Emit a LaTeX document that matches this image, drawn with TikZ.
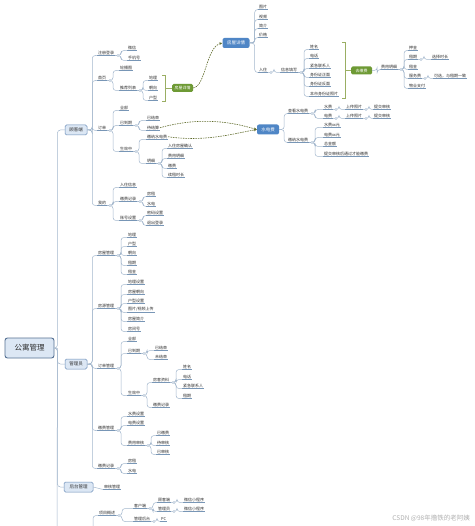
\documentclass[tikz,border=0pt]{standalone}
\usepackage{fontspec}
\setmainfont{Noto Sans CJK SC}
\usetikzlibrary{arrows.meta}
\definecolor{ulc}{HTML}{7896B6}
\definecolor{cnc}{HTML}{A3B7CD}
\definecolor{txt}{HTML}{2E2E2E}
\definecolor{brfill}{HTML}{DCE7F4}
\definecolor{brdraw}{HTML}{6A8DB8}
\definecolor{bluebox}{HTML}{4F86C6}
\definecolor{greenbox}{HTML}{6E9A35}
\definecolor{olivec}{HTML}{5F6B2A}
\definecolor{brkc}{HTML}{9AAE63}
\tikzset{
  leaf/.style={anchor=south west, inner xsep=0.8pt, inner ysep=0.7pt, font=\fontsize{4}{4.5}\selectfont, text=txt},
  uline/.style={draw=ulc, line width=0.7pt},
  conn/.style={draw=cnc, line width=0.5pt, rounded corners=3pt},
  foldc/.style={draw=cnc, fill=white, line width=0.3pt},
  mainbox/.style={draw=brdraw, fill=brfill, rounded corners=1.5pt, line width=0.5pt, font=\fontsize{4.5}{5}\selectfont, minimum width=22pt, minimum height=10pt, inner sep=1pt, text=txt},
  rootbox/.style={draw=brdraw!80!black, fill=brfill, rounded corners=2.5pt, line width=0.9pt, font=\fontsize{7.5}{8}\selectfont, minimum width=49pt, minimum height=20pt, inner sep=1pt, text=txt},
  bluebx/.style={fill=bluebox, text=white, rounded corners=2pt, minimum width=27pt, minimum height=10pt, inner sep=1pt, font=\fontsize{4.5}{5}\selectfont},
  greenbx/.style={fill=greenbox, text=white, rounded corners=1.5pt, minimum width=21pt, minimum height=8pt, inner sep=1pt, font=\fontsize{4}{4.5}\selectfont},
  darrow/.style={draw=olivec, dashed, dash pattern=on 1.5pt off 1pt, line width=0.6pt, -{Stealth[length=3pt,width=2.5pt]}},
  brk/.style={draw=brkc, line width=0.6pt},
}
\newcommand\lf[4]{\node[leaf] (#1) at ({#2},{#3+2.5}) {#4}; \draw[uline] (#1.south west) -- (#1.south east);}
\newcommand\cx[2]{\draw[conn] (#1.south east) -- ++(6,0) |- (#2.south west);}
\newcommand\bx[2]{\draw[conn] (#1.east) -- ++(5,0) |- (#2.south west);}
\newcommand\fd[1]{\draw[foldc] ([xshift=3pt]#1.south east) circle (1.1pt);}
\begin{document}
\begin{tikzpicture}[x=1pt,y=-1pt]
\fill[white] (0,0) rectangle (474,526);
\useasboundingbox (0,0) rectangle (474,526);

% root and main branches
\node[rootbox] (root) at (29.5,348) {公寓管理};
\node[mainbox] (gk) at (76,130) {顾客端};
\node[mainbox] (gly) at (76,364) {管理员};
\node[mainbox, minimum width=29pt] (htgl) at (78.5,487) {后台管理};
\coordinate (tb) at (57,526);
\draw[conn] (root.east) -- ++(3,0) |- (gk.west);
\draw[conn] (root.east) -- ++(3,0) |- (gly.west);
\draw[conn] (root.east) -- ++(3,0) |- (htgl.west);
\draw[conn] ([xshift=3pt]root.east) -- (tb);

% ---------- 顾客端 ----------
\lf{zc}{97}{53}{注册登录}
\lf{wx1}{127}{48}{微信}
\lf{sjh}{127}{58}{手机号}
\lf{sy}{97}{78}{首页}
\lf{lbt}{119}{68}{轮播图}
\lf{tjlb}{119}{88}{推荐列表}
\lf{dl1}{148}{78}{地理}
\lf{cx1}{148}{88}{朝向}
\lf{hx1}{148}{98}{户型}
\lf{dd}{97}{128}{订单}
\lf{qb1}{119}{108}{全部}
\lf{ydq1}{119}{123}{已到期}
\lf{yjs1}{146}{118}{已结束}
\lf{djs1}{146}{128}{待结算}
\lf{sxz1}{119}{149}{生效中}
\lf{jnsdf1}{146}{137}{缴纳水电费}
\lf{mx1}{146}{161}{明细}
\lf{rzfw}{167}{146}{入住房屋确认}
\lf{fymx1}{167}{156}{费用明细}
\lf{jf1}{167}{166}{缴费}
\lf{xzsc}{167}{175}{续租时长}
\lf{wd}{97}{203}{我的}
\lf{rzxx}{119}{185}{入住信息}
\lf{jfjl1}{119}{199}{缴费记录}
\lf{fz1}{146}{194}{房租}
\lf{sd1}{146}{204}{水电}
\lf{zhsz}{119}{218}{账号设置}
\lf{mmsz}{146}{213}{密码设置}
\lf{tcdl}{146}{223}{退出登录}

\bx{gk}{zc} \bx{gk}{sy} \bx{gk}{dd} \bx{gk}{wd}
\cx{zc}{wx1} \cx{zc}{sjh}
\cx{sy}{lbt} \cx{sy}{tjlb}
\cx{tjlb}{dl1} \cx{tjlb}{cx1} \cx{tjlb}{hx1}
\cx{dd}{qb1} \cx{dd}{ydq1} \cx{dd}{sxz1}
\cx{ydq1}{yjs1} \cx{ydq1}{djs1}
\cx{sxz1}{jnsdf1} \cx{sxz1}{mx1}
\cx{mx1}{rzfw} \cx{mx1}{fymx1} \cx{mx1}{jf1} \cx{mx1}{xzsc}
\cx{wd}{rzxx} \cx{wd}{jfjl1} \cx{wd}{zhsz}
\cx{jfjl1}{fz1} \cx{jfjl1}{sd1}
\cx{zhsz}{mmsz} \cx{zhsz}{tcdl}
\fd{zc} \fd{sy} \fd{tjlb} \fd{dd} \fd{ydq1} \fd{sxz1} \fd{mx1} \fd{wd} \fd{jfjl1} \fd{zhsz}

% summary bracket 1
\node[greenbx] (gs1) at (182.5,88) {房屋详情};
\draw[brk] (162,75) -- (165,75) -- (165,101) -- (162,101);
\draw[brk] (165,88) -- (gs1.west);

% ---------- 房屋详情 ----------
\node[bluebx] (fwxq) at (236,43) {房屋详情};
\lf{tp}{258}{7}{图片}
\lf{sp}{258}{17}{视频}
\lf{jj}{258}{26}{简介}
\lf{jg}{258}{35}{价格}
\lf{rz}{258}{70}{入住}
\lf{xxtx}{280}{70}{信息填写}
\lf{xm1}{309}{47}{姓名}
\lf{dh1}{309}{56}{电话}
\lf{jjlxr1}{309}{66}{紧急联系人}
\lf{sfzz}{309}{75}{身份证正面}
\lf{sfzf}{309}{84}{身份证反面}
\lf{bssfz}{309}{94}{本市身份证照片}
\bx{fwxq}{tp} \bx{fwxq}{sp} \bx{fwxq}{jj} \bx{fwxq}{jg} \bx{fwxq}{rz}
\cx{rz}{xxtx}
\cx{xxtx}{xm1} \cx{xxtx}{dh1} \cx{xxtx}{jjlxr1} \cx{xxtx}{sfzz} \cx{xxtx}{sfzf} \cx{xxtx}{bssfz}
\fd{rz} \fd{xxtx}

% summary bracket 2
\node[greenbx] (qjf) at (361.5,70.5) {去缴费};
\draw[brk] (342,42) -- (345,42) -- (345,98) -- (342,98);
\draw[brk] (345,70.5) -- (qjf.west);
\lf{fymx2}{380}{67}{费用明细}
\lf{yj}{408}{48}{押金}
\lf{zq2}{408}{57}{租期}
\lf{xzsc2}{431}{57}{选择时长}
\lf{zj2}{408}{67}{租金}
\lf{fwf}{408}{76}{服务费}
\lf{kx}{433}{76}{可选，与租期一致}
\lf{wyzf}{408}{86}{物业支付}
\bx{qjf}{fymx2}
\cx{fymx2}{yj} \cx{fymx2}{zq2} \cx{fymx2}{zj2} \cx{fymx2}{fwf} \cx{fymx2}{wyzf}
\cx{zq2}{xzsc2} \cx{fwf}{kx}
\fd{fymx2} \fd{zq2} \fd{fwf}

% ---------- 水电费 ----------
\node[bluebx, minimum width=22pt] (sdf) at (268,129.5) {水电费};
\lf{cksdf}{287}{111}{查看水电费}
\lf{sf2}{323}{107}{水费}
\lf{sczp1}{345}{107}{上传照片}
\lf{tjsh1}{373}{107}{提交审核}
\lf{df2}{323}{116}{电费}
\lf{sczp2}{345}{116}{上传照片}
\lf{tjsh2}{373}{116}{提交审核}
\lf{jnsdf2}{287}{140}{缴纳水电费}
\lf{sfxx}{323}{125}{水费xx元}
\lf{dfxx}{323}{135}{电费xx元}
\lf{zje}{323}{144}{总金额}
\lf{tjshh}{323}{154}{提交审核后通过才能缴费}
\bx{sdf}{cksdf} \bx{sdf}{jnsdf2}
\cx{cksdf}{sf2} \cx{cksdf}{df2}
\cx{sf2}{sczp1} \cx{sczp1}{tjsh1} \cx{df2}{sczp2} \cx{sczp2}{tjsh2}
\cx{jnsdf2}{sfxx} \cx{jnsdf2}{dfxx} \cx{jnsdf2}{zje} \cx{jnsdf2}{tjshh}
\fd{cksdf} \fd{sf2} \fd{sczp1} \fd{df2} \fd{sczp2} \fd{jnsdf2}

% dashed relationship arrows
\draw[darrow] (gs1.east) .. controls (206,86) and (206,47) .. (fwxq.west);
\draw[darrow] (djs1.east) .. controls (195,118) and (225,120) .. (sdf.west);
\draw[darrow] (jnsdf1.east) .. controls (205,142) and (232,134) .. (sdf.west);

% ---------- 管理员 ----------
\lf{fwgl}{97}{253}{房屋管理}
\lf{dl2}{127}{235}{地理}
\lf{hx2}{127}{244}{户型}
\lf{cx2}{127}{253}{朝向}
\lf{zq3}{127}{263}{租期}
\lf{zj3}{127}{272}{租金}
\lf{fygl}{97}{306}{房源管理}
\lf{dlsz}{127}{282}{地理设置}
\lf{fwcx}{127}{292}{房屋朝向}
\lf{hxsz}{127}{301}{户型设置}
\lf{tpsp}{127}{310}{图片/视频上传}
\lf{fwjj}{127}{319}{房屋简介}
\lf{fjh}{127}{329}{房间号}
\lf{ddgl}{97}{366}{订单管理}
\lf{qb2}{127}{339}{全部}
\lf{ydq2}{127}{351}{已到期}
\lf{yjs2}{154}{348}{已结束}
\lf{wjs2}{154}{357}{未结束}
\lf{sxz2}{127}{393}{生效中}
\lf{fkzl}{152}{380}{房客资料}
\lf{xm2}{182}{367}{姓名}
\lf{dh2}{182}{377}{电话}
\lf{jjlxr2}{182}{386}{紧急联系人}
\lf{zq4}{182}{396}{租期}
\lf{jfjl2}{152}{405}{缴费记录}
\lf{jfgl}{97}{428}{缴费管理}
\lf{sfsz}{127}{414}{水费设置}
\lf{dfsz}{127}{423}{电费设置}
\lf{fysh}{127}{443}{费用审核}
\lf{yjf}{156}{433}{已缴费}
\lf{dsh}{156}{443}{待审核}
\lf{ysh}{156}{452}{已审核}
\lf{jfjl3}{97}{466}{缴费记录}
\lf{fz3}{127}{461}{房租}
\lf{sd3}{127}{471}{水电}
\bx{gly}{fwgl} \bx{gly}{fygl} \bx{gly}{ddgl} \bx{gly}{jfgl} \bx{gly}{jfjl3}
\cx{fwgl}{dl2} \cx{fwgl}{hx2} \cx{fwgl}{cx2} \cx{fwgl}{zq3} \cx{fwgl}{zj3}
\cx{fygl}{dlsz} \cx{fygl}{fwcx} \cx{fygl}{hxsz} \cx{fygl}{tpsp} \cx{fygl}{fwjj} \cx{fygl}{fjh}
\cx{ddgl}{qb2} \cx{ddgl}{ydq2} \cx{ddgl}{sxz2}
\cx{ydq2}{yjs2} \cx{ydq2}{wjs2}
\cx{sxz2}{fkzl} \cx{sxz2}{jfjl2}
\cx{fkzl}{xm2} \cx{fkzl}{dh2} \cx{fkzl}{jjlxr2} \cx{fkzl}{zq4}
\cx{jfgl}{sfsz} \cx{jfgl}{dfsz} \cx{jfgl}{fysh}
\cx{fysh}{yjf} \cx{fysh}{dsh} \cx{fysh}{ysh}
\cx{jfjl3}{fz3} \cx{jfjl3}{sd3}
\fd{fwgl} \fd{fygl} \fd{ddgl} \fd{ydq2} \fd{sxz2} \fd{fkzl} \fd{jfgl} \fd{fysh} \fd{jfjl3}

% ---------- 后台管理 ----------
\lf{shgl}{103}{487}{审核管理}
\draw[conn] (htgl.east) -- (shgl.south west);
\lf{xmgs}{98}{513}{项目概述}
\coordinate (xb) at (93,526);
\draw[conn] (xb) |- (xmgs.south west);
\lf{khd}{133}{506}{客户端}
\lf{gkd2}{157}{500}{顾客端}
\lf{wxx1}{183}{500}{微信小程序}
\lf{gly2}{157}{509}{管理员}
\lf{wxx2}{183}{509}{微信小程序}
\lf{glht}{133}{519}{管理后台}
\lf{pc}{160}{519}{PC}
\cx{xmgs}{khd} \cx{xmgs}{glht}
\cx{khd}{gkd2} \cx{khd}{gly2}
\cx{gkd2}{wxx1} \cx{gly2}{wxx2} \cx{glht}{pc}
\fd{xmgs} \fd{khd} \fd{gkd2} \fd{gly2} \fd{glht}

% watermark
\node[anchor=east, text=black!30, font=\fontsize{6.5}{7}\selectfont, inner sep=0pt] (wm) at (470,518) {CSDN @98年撸铁的老阿姨};
\end{tikzpicture}
\end{document}
